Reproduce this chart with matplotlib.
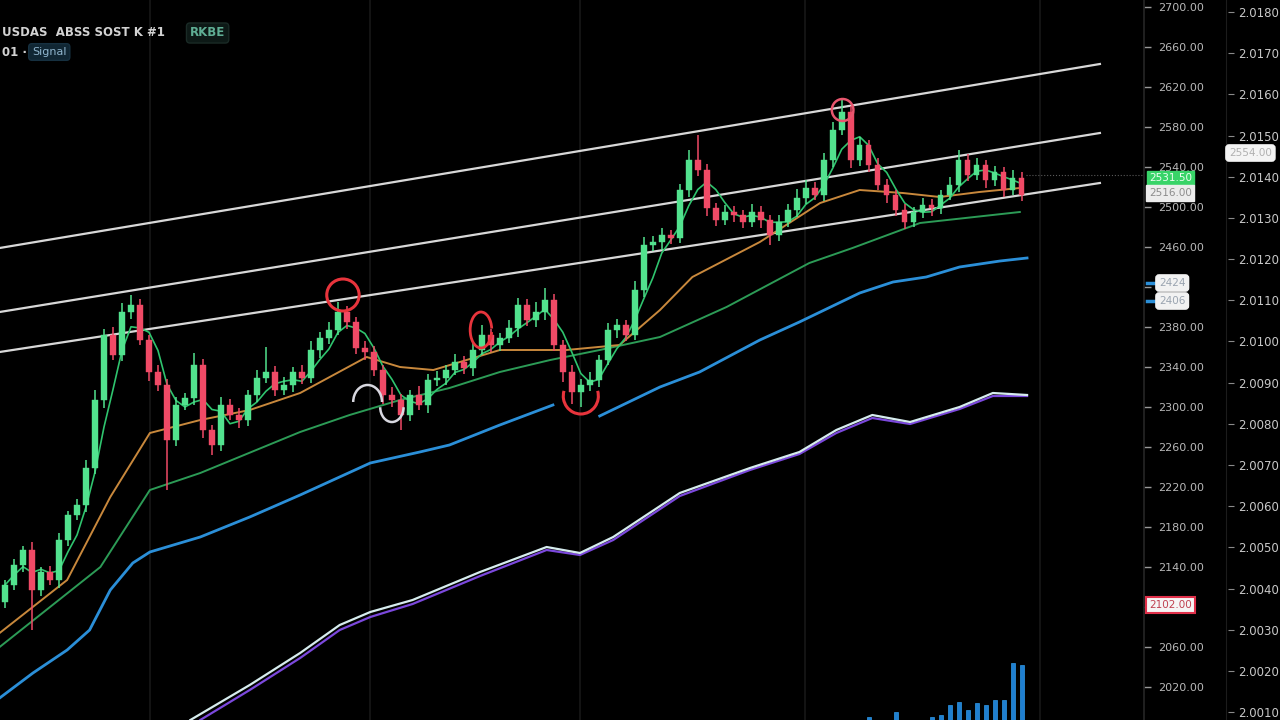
import matplotlib
matplotlib.use("Agg")
import matplotlib.pyplot as plt
import matplotlib.transforms as mtransforms
from matplotlib.patches import Ellipse, Arc
import numpy as np
import pandas as pd

# ---------------- data ----------------
first_open = 2105
closes = [2122, 2142, 2157, 2117, 2135, 2127, 2167, 2192, 2202, 2239,
          2307, 2372, 2352, 2395, 2402, 2367, 2335, 2322, 2267, 2302,
          2309, 2342, 2277, 2262, 2302, 2292, 2287, 2312, 2329, 2335,
          2317, 2322, 2335, 2329, 2357, 2369, 2377, 2395, 2385, 2359,
          2355, 2337, 2312, 2307, 2292, 2312, 2302, 2327, 2329, 2337,
          2345, 2339, 2357, 2372, 2362, 2369, 2379, 2402, 2387, 2395,
          2407, 2362, 2335, 2315, 2322, 2327, 2347, 2377, 2382, 2372,
          2417, 2462, 2465, 2472, 2469, 2517, 2547, 2537, 2499, 2487,
          2495, 2492, 2485, 2495, 2487, 2472, 2485, 2497, 2509, 2519,
          2512, 2547, 2577, 2595, 2547, 2562, 2542, 2522, 2512, 2497,
          2485, 2495, 2502, 2499, 2512, 2522, 2547, 2532, 2542, 2527,
          2535, 2517, 2529, 2512]
wick_up = [5, 6, 4, 8, 5, 6, 7, 4, 6, 8,
           10, 6, 8, 9, 10, 6, 5, 7, 6, 8,
           5, 12, 6, 5, 8, 6, 7, 5, 8, 25,
           6, 8, 5, 7, 9, 6, 8, 10, 6, 5,
           7, 6, 5, 8, 6, 5, 9, 6, 7, 5,
           8, 6, 7, 10, 6, 5, 8, 7, 6, 10,
           12, 6, 5, 7, 6, 8, 5, 7, 6, 5,
           9, 8, 6, 7, 5, 6, 10, 25, 6, 5,
           7, 6, 5, 8, 6, 5, 7, 6, 9, 8,
           6, 7, 8, 12, 6, 8, 5, 7, 6, 5,
           6, 5, 7, 6, 5, 8, 10, 6, 7, 5,
           6, 5, 8, 6]
wick_dn = [6, 5, 7, 40, 6, 5, 8, 6, 5, 7,
           6, 8, 5, 6, 7, 5, 9, 6, 50, 6,
           5, 7, 8, 10, 6, 5, 8, 6, 7, 5,
           6, 5, 7, 6, 5, 8, 6, 5, 7, 6,
           8, 6, 9, 7, 15, 6, 5, 8, 6, 7,
           5, 6, 8, 5, 7, 6, 5, 9, 6, 7,
           8, 6, 10, 12, 15, 6, 7, 5, 8, 6,
           5, 7, 6, 8, 6, 5, 7, 6, 8, 6,
           5, 7, 6, 5, 8, 10, 6, 5, 7, 6,
           5, 6, 7, 5, 8, 6, 7, 5, 8, 6,
           7, 5, 6, 8, 6, 5, 7, 6, 5, 8,
           6, 7, 5, 6]

# slow blue average (two pieces, gap around the marked low)
blue_a_x = [-0.6, 3.1, 6.9, 9.4, 11.7, 14.2, 16.1, 21.7, 27.2, 32.8, 40.6, 46.1, 49.4, 55.0, 60.9]
blue_a_y = [2009, 2034, 2057, 2077, 2117, 2144, 2155, 2170, 2190, 2212, 2244, 2255, 2262, 2282, 2302]
blue_b_x = [66.1, 72.8, 77.2, 83.9, 88.3, 95.0, 98.7, 102.4, 106.1, 110.6, 113.6]
blue_b_y = [2291, 2320, 2335, 2367, 2385, 2414, 2425, 2430, 2440, 2446, 2449]

white_x = [20.6, 27.2, 32.8, 37.2, 40.6, 45.3, 52.8, 60.2, 63.9, 67.6, 75.0, 82.8, 88.3, 92.4, 96.4, 100.6, 106.1, 109.8, 113.6]
white_y = [1987, 2022, 2054, 2082, 2095, 2107, 2135, 2160, 2154, 2170, 2214, 2239, 2255, 2277, 2292, 2285, 2300, 2314, 2312]
purple_x = [21.7, 27.2, 32.8, 37.2, 40.6, 45.3, 52.8, 60.2, 63.9, 67.6, 75.0, 82.8, 88.3, 92.4, 96.4, 100.6, 106.1, 109.8, 113.6]
purple_y = [1987, 2017, 2049, 2077, 2090, 2103, 2131, 2157, 2152, 2167, 2211, 2237, 2253, 2274, 2289, 2283, 2298, 2311, 2311]

orange_x = [-0.6, 6.9, 11.7, 16.1, 21.7, 27.2, 32.8, 40.2, 43.9, 47.6, 55.0, 62.4, 68.3, 72.8, 76.4, 83.9, 90.6, 95.0, 99.8, 103.9, 108.3, 112.8]
orange_y = [2074, 2127, 2210, 2274, 2287, 2297, 2314, 2350, 2340, 2337, 2357, 2357, 2362, 2397, 2430, 2465, 2504, 2517, 2514, 2510, 2515, 2519]

dgreen_x = [-0.6, 10.6, 16.1, 21.7, 32.8, 38.3, 43.9, 49.4, 55.0, 60.6, 66.1, 72.8, 80.2, 89.4, 94.2, 101.7, 112.8]
dgreen_y = [2060, 2140, 2217, 2234, 2275, 2292, 2307, 2319, 2335, 2347, 2357, 2370, 2400, 2444, 2459, 2484, 2495]

trend_x = [-0.6, 121.7]
trend_top = [2459, 2643]
trend_mid = [2395, 2574]
trend_low = [2355, 2524]

vol_idx = [96, 99, 103, 104, 105, 106, 107, 108, 109, 110, 111, 112, 113]
vol = [3, 8, 3, 5, 15, 18, 10, 17, 15, 20, 20, 57, 55]

price_ticks = [2700, 2660, 2620, 2580, 2540, 2500, 2460, 2420, 2380,
               2340, 2300, 2260, 2220, 2180, 2140, 2100, 2060, 2020]
price_tick_labels = ["2700.00", "2660.00", "2620.00", "2580.00", "2540.00", "2500.00",
                     "2460.00", "", "2380.00", "2340.00", "2300.00", "2260.00",
                     "2220.00", "2180.00", "2140.00", "", "2060.00", "2020.00"]
ratio_ticks = [2.0180, 2.0170, 2.0160, 2.0150, 2.0140, 2.0130, 2.0120, 2.0110, 2.0100,
               2.0090, 2.0080, 2.0070, 2.0060, 2.0050, 2.0040, 2.0030, 2.0020, 2.0010]
ratio_tick_labels = ["2.0180", "2.0170", "2.0160", "2.0150", "2.0140", "2.0130",
                     "2.0120", "2.0110", "2.0100", "2.0090", "2.0080", "2.0070",
                     "2.0060", "2.0050", "2.0040", "2.0030", "2.0020", "2.0010"]

badge_last = 2529
badge_prev = 2514
badge_top = 2554
badge_ma1 = 2424
badge_ma2 = 2406
badge_low = 2102

title_text = "USDAS  ABSS SOST K #1"
title_tag = "RKBE"
sub_text = "01 ·"
sub_tag = "Signal"

# ---------------- figure ----------------
W, H = 1280, 720
fig = plt.figure(figsize=(12.8, 7.2), dpi=100, facecolor="black")
ax = fig.add_axes([0, 0, 1144 / W, 1])
ax.set_facecolor("black")
ax.set_xlim(-0.56, 126.6)
ax.set_ylim(1987, 2707)

for s in ["top", "left", "bottom"]:
    ax.spines[s].set_visible(False)
ax.spines["right"].set_color("#262626")
ax.spines["right"].set_linewidth(1.2)
ax.set_xticks([])
ax.yaxis.tick_right()
ax.set_yticks(price_ticks)
ax.set_yticklabels(price_tick_labels)
ax.tick_params(axis="y", colors="#9a9a9a", labelcolor="#b8b8b8", length=5,
               width=1, pad=5, labelsize=8)

# faint vertical separators
for gx in [16.1, 40.6, 63.9, 88.9, 115.0]:
    ax.axvline(gx, color="#161616", lw=1.3, zorder=0)

GREEN = "#52e28e"
RED = "#f04a66"

# trend lines
for ty in (trend_top, trend_mid, trend_low):
    ax.plot(trend_x, ty, color="#d8d8d8", lw=1.6, zorder=2)

# slow averages
ax.plot(purple_x, purple_y, color="#7b48dc", lw=1.6, zorder=3)
ax.plot(white_x, white_y, color="#d6ecee", lw=1.6, zorder=3)
ax.plot(blue_a_x, blue_a_y, color="#2b8fd8", lw=2.0, zorder=3)
ax.plot(blue_b_x, blue_b_y, color="#2b8fd8", lw=2.0, zorder=3)
ax.plot(dgreen_x, dgreen_y, color="#2c9b56", lw=1.4, zorder=3)
ax.plot(orange_x, orange_y, color="#c8883c", lw=1.4, zorder=3)

# candles
opens = [first_open] + closes[:-1]
idx = np.arange(len(closes))
fast = pd.Series(closes).rolling(4, min_periods=1).mean()
ax.plot(idx, fast, color="#2fc46e", lw=1.2, zorder=4)
for i, (o, c) in enumerate(zip(opens, closes)):
    col = GREEN if c >= o else RED
    top = max(o, c)
    bot = min(o, c)
    ax.vlines(i, bot - wick_dn[i], top + wick_up[i], color=col, lw=1.1, zorder=5)
    ax.bar(i, max(top - bot, 2), bottom=bot, width=0.62, color=col,
           edgecolor=col, lw=0.3, zorder=6)

# markers
ax.add_patch(Ellipse((37.56, 2412), 3.6, 32, fill=False, ec="#e8343c", lw=2.2, zorder=7))
ax.add_patch(Arc((52.9, 2377), 2.4, 36, theta1=50, theta2=300, ec="#e8343c", lw=2.0, zorder=7))
ax.add_patch(Arc((64.0, 2311), 3.9, 36, theta1=110, theta2=430, ec="#e8343c", lw=2.2, zorder=7))
ax.add_patch(Ellipse((93.1, 2597), 2.4, 22, fill=False, ec="#e8566e", lw=1.8, zorder=7))
ax.add_patch(Arc((40.3, 2305), 3.2, 34, theta1=0, theta2=180, ec="#d8d8e0", lw=1.8, zorder=7))
ax.add_patch(Arc((43.0, 2300), 2.6, 30, theta1=190, theta2=350, ec="#d8d8e0", lw=1.8, zorder=7))

# current price dotted line
ax.plot([113.5, 126.6], [2532, 2532], color="#5a5a5a", lw=0.8, ls=":", zorder=2)

# volume
axv = fig.add_axes([0, 0, 1144 / W, 72 / H], sharex=ax)
axv.set_facecolor("none")
axv.set_ylim(0, 72)
axv.bar(vol_idx, vol, width=0.45, color="#1f7fd0", edgecolor="#2f9ae8", lw=0.5)
axv.axis("off")
ax.set_xlim(-0.56, 126.6)

# second scale column
ax2 = fig.add_axes([1226 / W, 0, 1.5 / W, 1])
ax2.set_facecolor("black")
y2_top = 2.0180 + 12 / 41.18 * 0.001
y2_bot = 2.0180 - 708 / 41.18 * 0.001
ax2.set_ylim(y2_bot, y2_top)
ax2.set_xticks([])
for s in ["top", "bottom", "right"]:
    ax2.spines[s].set_visible(False)
ax2.spines["left"].set_color("#1c1c1c")
ax2.yaxis.tick_right()
ax2.set_yticks(ratio_ticks)
ax2.set_yticklabels(ratio_tick_labels)
ax2.tick_params(axis="y", colors="#8a8a8a", labelcolor="#c8c8c8", length=4,
                pad=4, labelsize=8.5)

# badges
bt = mtransforms.blended_transform_factory(fig.transFigure, ax.transData)
fig.text(1149 / W, badge_last, "2531.50", transform=bt, fontsize=7.5, color="#eafff0",
         va="center", ha="left", zorder=10,
         bbox=dict(boxstyle="square,pad=0.2", fc="#38d468", ec="#38d468"))
fig.text(1149 / W, badge_prev, "2516.00", transform=bt, fontsize=7.5, color="#8c8c8c",
         va="center", ha="left", zorder=10,
         bbox=dict(boxstyle="square,pad=0.25", fc="#ececec", ec="#ececec"))
fig.text(1229 / W, badge_top, "2554.00", transform=bt, fontsize=7.5, color="#b0b0b0",
         va="center", ha="left", zorder=10,
         bbox=dict(boxstyle="round,pad=0.3", fc="#f4f4f4", ec="#f4f4f4"))
for bv in (badge_ma1, badge_ma2):
    fig.text(1159 / W, bv, "%d" % bv, transform=bt, fontsize=7.5, color="#9aa4b0",
             va="center", ha="left", zorder=10,
             bbox=dict(boxstyle="round,pad=0.3", fc="#f2f2f2", ec="#f2f2f2"))
    fig.lines.append(plt.Line2D([1147 / W, 1157 / W], [bv, bv], transform=bt,
                                color="#2b8fd8", lw=2.5, figure=fig))
fig.text(1149 / W, badge_low, "2102.00", transform=bt, fontsize=7.5, color="#c04050",
         va="center", ha="left", zorder=10,
         bbox=dict(boxstyle="square,pad=0.3", fc="#f5f5f5", ec="#e0304a", lw=1.5))

# header
fig.text(2 / W, 1 - 33 / H, title_text, fontsize=8.5, color="#d2d2d2",
         fontweight="bold", va="center", ha="left")
fig.text(190 / W, 1 - 33 / H, title_tag, fontsize=8.5, color="#5fae94",
         fontweight="bold", va="center", ha="left",
         bbox=dict(boxstyle="round,pad=0.3", fc="#0d1916", ec="#1a2a26"))
fig.text(2 / W, 1 - 52 / H, sub_text, fontsize=8.5, color="#d2d2d2",
         fontweight="bold", va="center", ha="left")
fig.text(32 / W, 1 - 52 / H, sub_tag, fontsize=8, color="#8fb4cc",
         va="center", ha="left",
         bbox=dict(boxstyle="round,pad=0.3", fc="#102633", ec="#163040"))

fig.savefig("out.png", dpi=100, facecolor="black")
